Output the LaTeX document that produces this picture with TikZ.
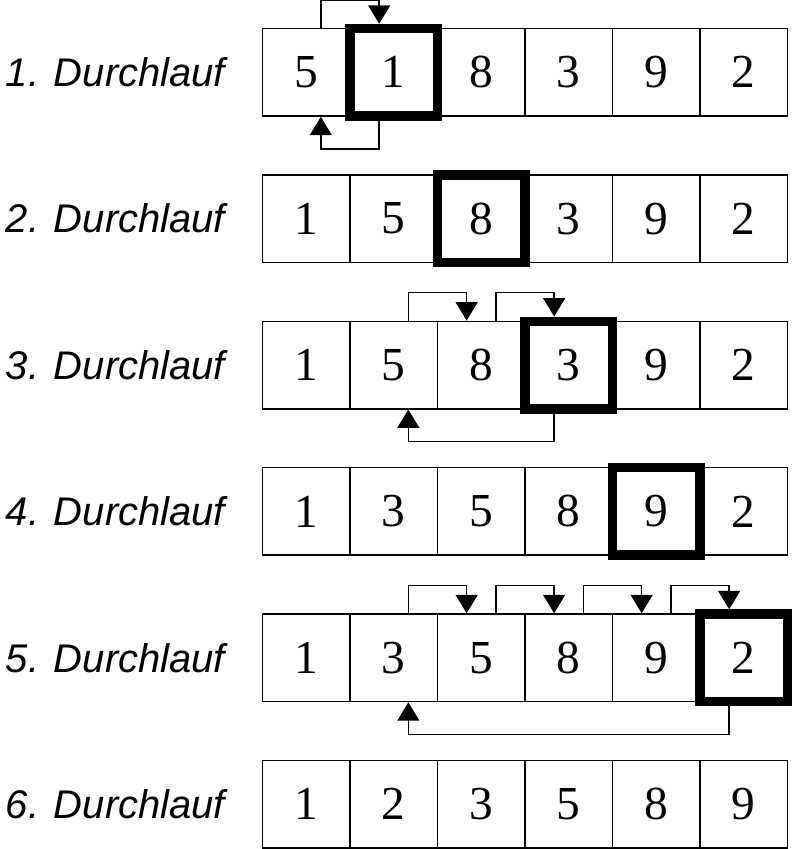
\documentclass[tikz,border=0pt]{standalone}
\usepackage{fontspec}
\setmainfont{Liberation Serif}
\newfontfamily\labelfont{Liberation Sans}
\usetikzlibrary{arrows.meta}
\tikzset{
    zelle/.style={draw, line width=0.5pt, minimum size=1cm, inner sep=0pt,
        font=\fontsize{15.4}{18}\selectfont},
    akt/.style={zelle, line width=3.1pt},
    pfeil/.style={line width=0.5pt, -{Triangle[length=0.21cm,width=0.25cm]}},
    titel/.style={anchor=west, inner sep=0pt,
        font=\labelfont\itshape\fontsize{13}{16}\selectfont}
}
\begin{document}
\begin{tikzpicture}
        \useasboundingbox (0,0) rectangle (9.063,9.703);
        \foreach \r/\liste/\akt in {1/{5,1,8,3,9,2}/2,2/{1,5,8,3,9,2}/3,3/{1,5,8,3,9,2}/4,
                                    4/{1,3,5,8,9,2}/5,5/{1,3,5,8,9,2}/6,6/{1,2,3,5,8,9}/0}
            {
                \node[titel] (t\r) at (0.06,{0.512+(6-\r)*1.673}) {\r. Durchlauf};
                \foreach \z [count=\i] in \liste
                    {
                        \ifnum\i=\akt \def\stil{akt}\else\def\stil{zelle}\fi
                        \node[\stil] (c\r-\i) at (2.5+\i,{0.512+(6-\r)*1.673}) {\z};
                    }
            }
        % 1. Durchlauf
        \draw[pfeil] ([xshift=0.1667cm]c1-1.north) -- ++(0,0.32) -| ([xshift=-0.1667cm]c1-2.north);
        \draw[pfeil] ([xshift=-0.1667cm]c1-2.south) -- ++(0,-0.32) -| ([xshift=0.1667cm]c1-1.south);
        % 3. Durchlauf
        \foreach \i/\j in {2/3,3/4}
            \draw[pfeil] ([xshift=0.1667cm]c3-\i.north) -- ++(0,0.32) -| ([xshift=-0.1667cm]c3-\j.north);
        \draw[pfeil] ([xshift=-0.1667cm]c3-4.south) -- ++(0,-0.32) -| ([xshift=0.1667cm]c3-2.south);
        % 5. Durchlauf
        \foreach \i/\j in {2/3,3/4,4/5,5/6}
            \draw[pfeil] ([xshift=0.1667cm]c5-\i.north) -- ++(0,0.32) -| ([xshift=-0.1667cm]c5-\j.north);
        \draw[pfeil] ([xshift=-0.1667cm]c5-6.south) -- ++(0,-0.32) -| ([xshift=0.1667cm]c5-2.south);
    \end{tikzpicture}
\end{document}
